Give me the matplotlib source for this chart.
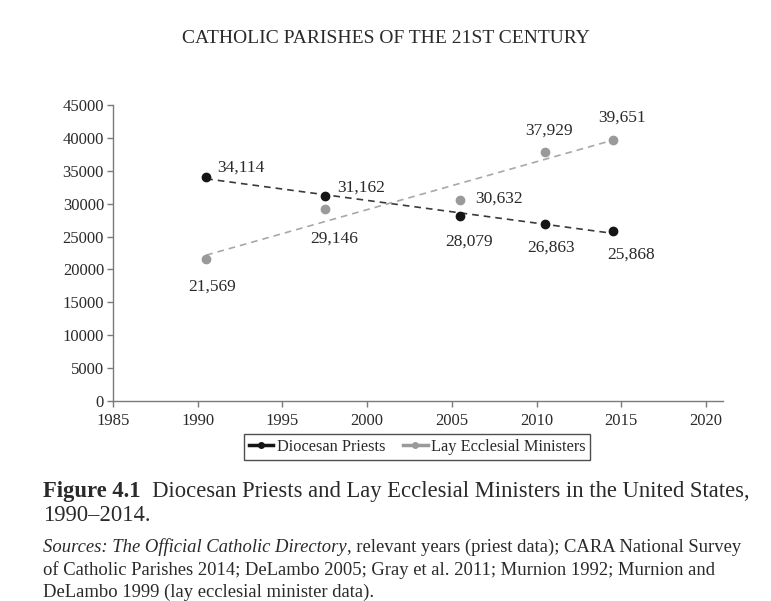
import matplotlib.pyplot as plt
import numpy as np

plt.rcParams['font.family'] = ['Liberation Serif', 'DejaVu Serif']

# ---data---
years = [1990.5, 1997.5, 2005.5, 2010.5, 2014.5]
priests = [34114, 31162, 28079, 26863, 25868]
lay_ministers = [21569, 29146, 30632, 37929, 39651]

# label offsets (points) for each data label
priest_offsets = [(25, 6.5), (26, 6), (6, -18), (4, -17), (13, -17)]
lay_offsets = [(4, -19.5), (6.5, -21.5), (28, 0.7), (3, 15), (6.5, 16.5)]

text_col = '#2a2a2a'
axis_col = '#7a7a7a'
dark = '#151515'
light = '#9a9a9a'

fig = plt.figure(figsize=(7.71, 6.01), dpi=100)
ax = fig.add_axes([0.1466, 0.3328, 0.791, 0.4925])

ax.plot(years, priests, 'o', color=dark, markersize=6, zorder=3)
ax.plot(years, lay_ministers, 'o', color=light, markersize=6, zorder=3)

# linear trendlines
for vals, col in [(priests, '#3a3a3a'), (lay_ministers, '#a8a8a8')]:
    k, b = np.polyfit(years, vals, 1)
    xs = np.array([years[0], years[-1]])
    ax.plot(xs, k * xs + b, color=col, lw=1.2, linestyle=(0, (4, 3)), zorder=2)

def label(v):
    return '{:,}'.format(v)

for x, v, off in zip(years, priests, priest_offsets):
    ax.annotate(label(v), (x, v), xytext=off, textcoords='offset points',
                ha='center', va='center', fontsize=12.5, color=text_col)
for x, v, off in zip(years, lay_ministers, lay_offsets):
    ax.annotate(label(v), (x, v), xytext=off, textcoords='offset points',
                ha='center', va='center', fontsize=12.5, color=text_col)

ax.set_xlim(1985, 2021)
ax.set_ylim(0, 45000)
ax.set_xticks(range(1985, 2021, 5))
ax.set_yticks(range(0, 45001, 5000))
for s in ['top', 'right']:
    ax.spines[s].set_visible(False)
for s in ['left', 'bottom']:
    ax.spines[s].set_color(axis_col)
    ax.spines[s].set_linewidth(1.0)
ax.tick_params(colors=axis_col, labelcolor=text_col, labelsize=12, length=4, width=1.0)
ax.tick_params(axis='x', pad=4.5)
ax.tick_params(axis='y', pad=2.5)

h1, = ax.plot([], [], '-o', color=dark, markersize=4, lw=2.5)
h2, = ax.plot([], [], '-o', color=light, markersize=4, lw=2.5)
leg = fig.legend([h1, h2], ['Diocesan Priests', 'Lay Ecclesial Ministers'],
                 loc='center', bbox_to_anchor=(0.541, 0.2565), ncol=2,
                 fontsize=11.8, frameon=True, fancybox=False, edgecolor='#222222',
                 handlelength=1.5, handletextpad=0.2, columnspacing=1.1,
                 borderpad=0.3)
leg.get_frame().set_linewidth(1.0)
for t in leg.get_texts():
    t.set_color(text_col)

# header
fig.text(0.5, 0.936, 'CATHOLIC PARISHES OF THE 21ST CENTURY', ha='center', va='center',
         fontsize=14, color=text_col)

# caption with mixed styles
fig.canvas.draw()
renderer = fig.canvas.get_renderer()

def run(x, y, parts, size):
    for txt, style, weight in parts:
        t = fig.text(x, y, txt, fontsize=size, style=style, weight=weight,
                     color=text_col, va='baseline', ha='left')
        bb = t.get_window_extent(renderer)
        x = x + bb.width / fig.bbox.width

left = 0.056
run(left, 1 - 497 / 601, [('Figure 4.1', 'normal', 'bold'),
                          ('  Diocesan Priests and Lay Ecclesial Ministers in the United States,', 'normal', 'normal')], 16.3)
run(left, 1 - 521 / 601, [('1990–2014.', 'normal', 'normal')], 16.3)
run(left, 1 - 552 / 601, [('Sources: The Official Catholic Directory', 'italic', 'normal'),
                          (', relevant years (priest data); CARA National Survey', 'normal', 'normal')], 13.4)
run(left, 1 - 575 / 601, [('of Catholic Parishes 2014; DeLambo 2005; Gray et al. 2011; Murnion 1992; Murnion and', 'normal', 'normal')], 13.4)
run(left, 1 - 597 / 601, [('DeLambo 1999 (lay ecclesial minister data).', 'normal', 'normal')], 13.4)

fig.savefig('out.png', dpi=100)
